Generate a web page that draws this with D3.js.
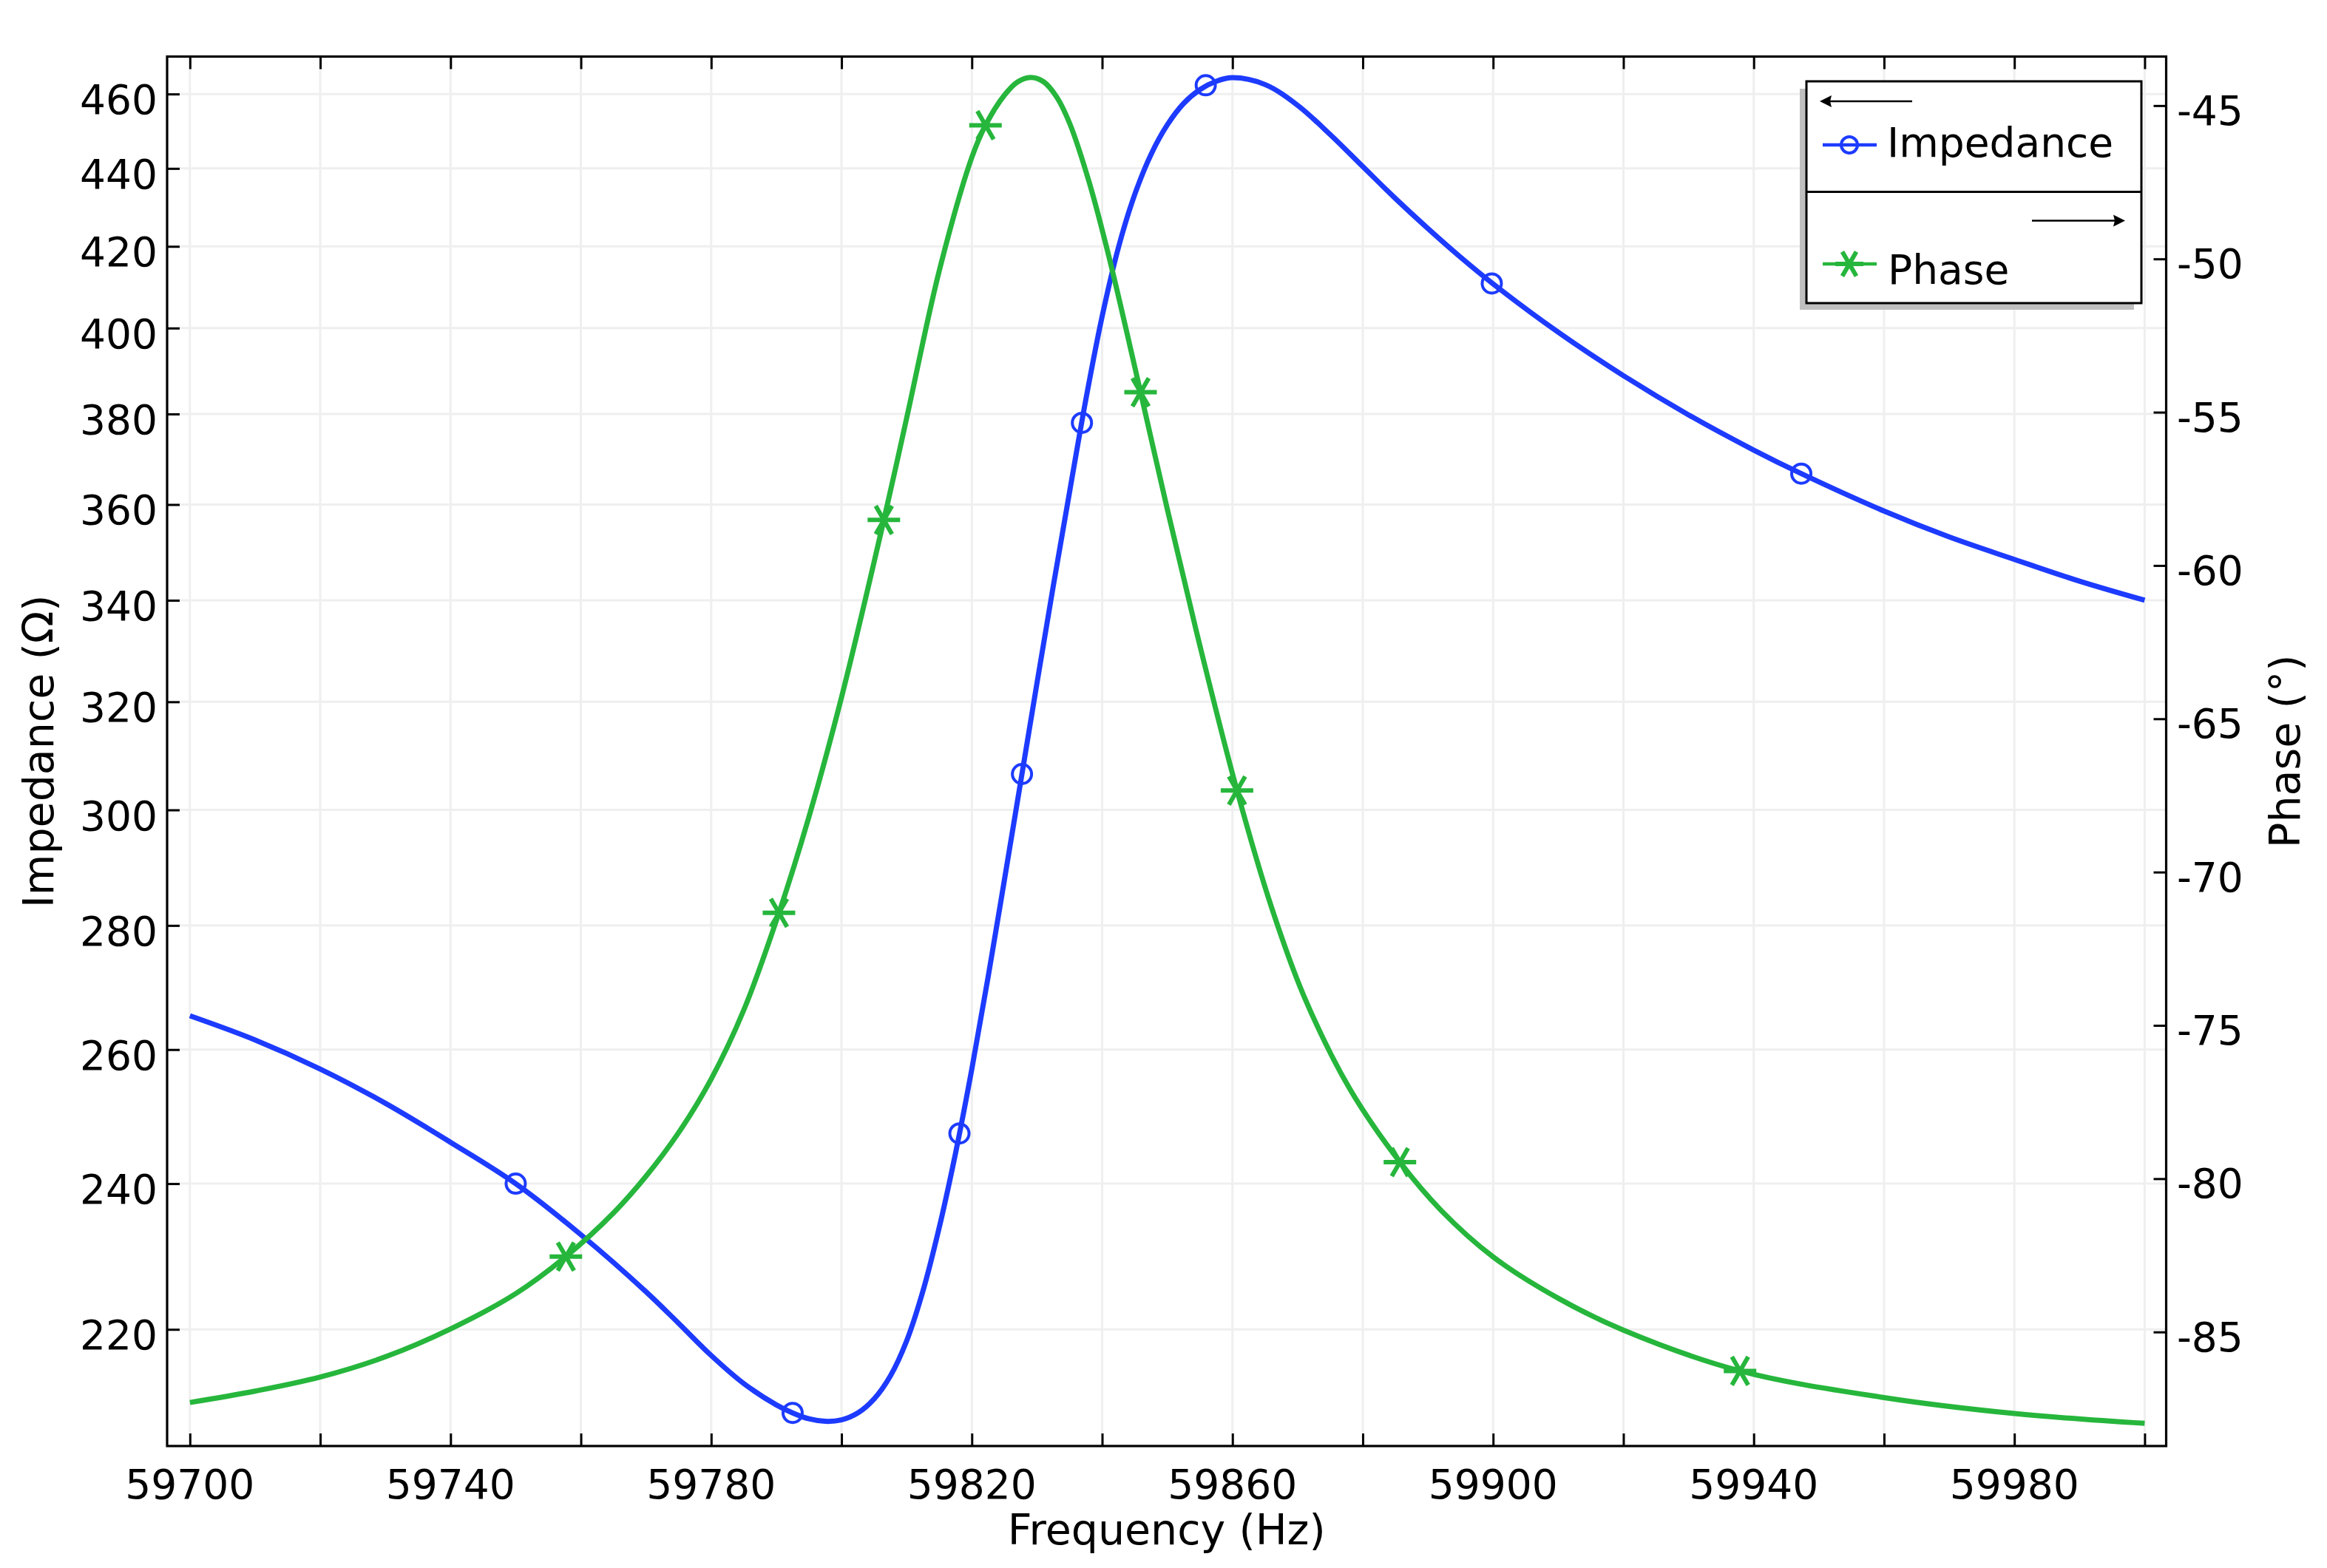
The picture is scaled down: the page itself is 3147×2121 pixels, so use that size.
<!DOCTYPE html>
<html>
<head>
<meta charset="utf-8">
<script src="https://cdn.jsdelivr.net/npm/d3@7"></script>
<style>
  html, body { margin: 0; padding: 0; background: #ffffff; }
  svg { display: block; font-family: "DejaVu Sans", sans-serif; }
</style>
</head>
<body>
<svg id="chart" width="3147" height="2121"></svg>
<script>
// ---------- data ----------
const impFreq = [59700, 59710, 59720, 59730, 59740, 59750, 59760, 59770, 59775, 59780,
                 59785, 59790, 59792.5, 59795, 59797.5, 59800, 59802.5, 59805, 59807.5, 59810,
                 59812.5, 59815, 59817.5, 59820, 59822.5, 59825, 59827.5, 59830, 59832.5, 59835,
                 59837.5, 59840, 59842.5, 59845, 59847.5, 59850, 59852.5, 59855, 59857.5, 59860,
                 59865, 59870, 59875, 59880, 59885, 59890, 59895, 59900, 59910, 59920,
                 59930, 59940, 59947.3, 59960, 59970, 59980, 59990, 60000];
const impValue = [265.3, 261.5, 257.0, 251.8, 246.0, 240.0, 232.8, 225.0, 220.8, 216.6,
                  213.0, 210.3, 209.3, 208.56, 208.25, 208.43, 209.29, 211.05, 213.97, 218.5,
                  225.1, 233.8, 244.4, 257.0, 271.5, 287.7, 305.1, 323.6, 342.9, 362.7,
                  383.3, 402.8, 419.7, 433.2, 443.7, 451.6, 457.4, 461.2, 463.5, 464.5,
                  462.6, 456.9, 449.0, 440.5, 432.2, 424.5, 417.3, 410.7, 399.0, 388.8,
                  379.8, 371.9, 366.7, 358.6, 353.1, 348.4, 343.9, 340.0];

const phaseFreq = [59700, 59710, 59720, 59730, 59740, 59750, 59757.7, 59765, 59770, 59775,
                   59780, 59785, 59790.4, 59795, 59800, 59806.5, 59810, 59815, 59820, 59822.1,
                   59825, 59827, 59829, 59831, 59833, 59835, 59838, 59841, 59845.9, 59850,
                   59855, 59860.7, 59866, 59871, 59878, 59885.7, 59892, 59900, 59910, 59920,
                   59937.9, 59960, 59980, 60000];
const phaseValue = [-87.30, -86.93, -86.47, -85.81, -84.90, -83.75, -82.54, -81.12, -79.92, -78.50,
                    -76.75, -74.50, -71.33, -68.20, -64.30, -58.515, -55.19, -50.39, -46.69, -45.64,
                    -44.66, -44.23, -44.08, -44.22, -44.71, -45.57, -47.49, -49.89, -54.35, -58.16,
                    -62.61, -67.34, -71.15, -74.06, -77.07, -79.46, -81.03, -82.55, -83.90, -84.94,
                    -86.27, -87.14, -87.66, -87.98];

// marker positions
const impMarkFreq  = [59750, 59792.5, 59818.1, 59827.7, 59836.9, 59855.9, 59899.8, 59947.3];
const impMarkValue = [240.0, 209.3, 247.3, 306.5, 378.0, 462.4, 410.8, 366.7];
const phaseMarkFreq  = [59757.7, 59790.4, 59806.5, 59822.1, 59845.9, 59860.7, 59885.7, 59937.9];
const phaseMarkValue = [-82.54, -71.33, -58.515, -45.64, -54.35, -67.34, -79.46, -86.27];

// ticks
const xTicksAll   = d3.range(59700, 60001, 20);
const xTickLabels = [59700, 59740, 59780, 59820, 59860, 59900, 59940, 59980];
const impTicks    = [220, 240, 260, 280, 300, 320, 340, 360, 380, 400, 420, 440, 460];
const phaseTicks  = [-85, -80, -75, -70, -65, -60, -55, -50, -45];

const xDomain     = [59696.5, 60003.3];
const impDomain   = [205.2, 470.4];
const phaseDomain = [-88.72, -43.40];

const seriesNames = ["Impedance", "Phase"];
const titles = { x: "Frequency (Hz)", yLeft: "Impedance (\u03A9)", yRight: "Phase (\u00B0)" };

// ---------- layout ----------
const plot = { left: 226, right: 2929.5, top: 76.5, bottom: 1956 };
const blue = "#1d3bff", green = "#26b63c", gridCol = "#efefef";
const fontSize = 55;

const svg = d3.select("#chart");
const x  = d3.scaleLinear().domain(xDomain).range([plot.left, plot.right]);
const yL = d3.scaleLog().domain(impDomain).range([plot.bottom, plot.top]);
const yR = d3.scaleLinear().domain(phaseDomain).range([plot.bottom, plot.top]);

svg.append("rect").attr("width", 3147).attr("height", 2121).attr("fill", "#fff");

svg.append("defs").append("clipPath").attr("id", "clip")
  .append("rect").attr("x", plot.left).attr("y", plot.top)
  .attr("width", plot.right - plot.left).attr("height", plot.bottom - plot.top);

// grid
const grid = svg.append("g");
grid.selectAll(".gx").data(xTicksAll).join("line")
  .attr("x1", d => x(d)).attr("x2", d => x(d))
  .attr("y1", plot.top).attr("y2", plot.bottom)
  .attr("stroke", gridCol).attr("stroke-width", 3);
grid.selectAll(".gy").data(impTicks).join("line")
  .attr("x1", plot.left).attr("x2", plot.right)
  .attr("y1", d => yL(d)).attr("y2", d => yL(d))
  .attr("stroke", gridCol).attr("stroke-width", 3);

// axes with inward ticks
const tickLen = 17;
const bottomAxis = d3.axisBottom(x).tickValues(xTicksAll).tickSize(-tickLen).tickFormat("");
const topAxis = d3.axisTop(x).tickValues(xTicksAll).tickSize(-tickLen).tickFormat("");
const leftAxis = d3.axisLeft(yL).tickValues(impTicks).tickSize(-tickLen).tickFormat("");
const rightAxis = d3.axisRight(yR).tickValues(phaseTicks).tickSize(-tickLen).tickFormat("");
function styleAxis(g) {
  g.select(".domain").remove();
  g.selectAll(".tick line").attr("stroke", "#000").attr("stroke-width", 3);
}
svg.append("g").attr("transform", `translate(0,${plot.bottom})`).call(bottomAxis).call(styleAxis);
svg.append("g").attr("transform", `translate(0,${plot.top})`).call(topAxis).call(styleAxis);
svg.append("g").attr("transform", `translate(${plot.left},0)`).call(leftAxis).call(styleAxis);
svg.append("g").attr("transform", `translate(${plot.right},0)`).call(rightAxis).call(styleAxis);

// tick labels
const lab = svg.append("g").attr("font-size", fontSize).attr("fill", "#000");
lab.selectAll(".xl").data(xTickLabels).join("text")
  .attr("x", d => x(d)).attr("y", 2027).attr("text-anchor", "middle").text(d => d);
lab.selectAll(".yl").data(impTicks).join("text")
  .attr("x", 213).attr("y", d => yL(d) + 27).attr("text-anchor", "end").text(d => d);
lab.selectAll(".yr").data(phaseTicks).join("text")
  .attr("x", 2944).attr("y", d => yR(d) + 26).attr("text-anchor", "start").text(d => d);

// titles
lab.append("text").attr("x", (plot.left + plot.right) / 2).attr("y", 2089)
  .attr("text-anchor", "middle").attr("font-size", 57).text(titles.x);
lab.append("text").attr("transform", `translate(72,${(plot.top + plot.bottom) / 2}) rotate(-90)`)
  .attr("text-anchor", "middle").attr("font-size", 57).text(titles.yLeft);
lab.append("text").attr("transform", `translate(3110,${(plot.top + plot.bottom) / 2}) rotate(-90)`)
  .attr("text-anchor", "middle").attr("font-size", 57).text(titles.yRight);

// lines
const impData = impFreq.map((f, i) => [f, impValue[i]]);
const phaseData = phaseFreq.map((f, i) => [f, phaseValue[i]]);
const impLine = d3.line().x(d => x(d[0])).y(d => yL(d[1])).curve(d3.curveCatmullRom.alpha(0.5));
const phaseLine = d3.line().x(d => x(d[0])).y(d => yR(d[1])).curve(d3.curveCatmullRom.alpha(0.5));

const lines = svg.append("g").attr("clip-path", "url(#clip)");
lines.append("path").datum(impData).attr("d", impLine)
  .attr("fill", "none").attr("stroke", blue).attr("stroke-width", 7)
  .attr("stroke-linejoin", "round").attr("stroke-linecap", "butt");
lines.selectAll(".im").data(impMarkFreq.map((f, i) => [f, impMarkValue[i]])).join("circle")
  .attr("cx", d => x(d[0])).attr("cy", d => yL(d[1])).attr("r", 13)
  .attr("fill", "none").attr("stroke", blue).attr("stroke-width", 4);

lines.append("path").datum(phaseData).attr("d", phaseLine)
  .attr("fill", "none").attr("stroke", green).attr("stroke-width", 7)
  .attr("stroke-linejoin", "round").attr("stroke-linecap", "butt");

function asterisk(g, cx, cy, r, color, sw) {
  [0, 60, 120].forEach(a => {
    const rad = a * Math.PI / 180;
    g.append("line")
      .attr("x1", cx - r * Math.cos(rad)).attr("y1", cy - r * Math.sin(rad))
      .attr("x2", cx + r * Math.cos(rad)).attr("y2", cy + r * Math.sin(rad))
      .attr("stroke", color).attr("stroke-width", sw);
  });
}
phaseMarkFreq.forEach((f, i) => asterisk(lines, x(f), yR(phaseMarkValue[i]), 22, green, 6));

// frame
svg.append("rect").attr("x", plot.left).attr("y", plot.top)
  .attr("width", plot.right - plot.left).attr("height", plot.bottom - plot.top)
  .attr("fill", "none").attr("stroke", "#000").attr("stroke-width", 3.2);

// legend
const lg = svg.append("g");
lg.append("rect").attr("x", 2434).attr("y", 120).attr("width", 452).attr("height", 299).attr("fill", "#bfbfbf");
lg.append("rect").attr("x", 2443).attr("y", 110).attr("width", 453).attr("height", 300)
  .attr("fill", "#fff").attr("stroke", "#000").attr("stroke-width", 3);
lg.append("line").attr("x1", 2443).attr("x2", 2896).attr("y1", 259.5).attr("y2", 259.5)
  .attr("stroke", "#000").attr("stroke-width", 3);
// arrows
lg.append("line").attr("x1", 2472).attr("x2", 2586).attr("y1", 137).attr("y2", 137).attr("stroke", "#000").attr("stroke-width", 2.5);
lg.append("path").attr("d", "M2461,137 L2477,129 L2475,137 L2477,145 Z").attr("fill", "#000");
lg.append("line").attr("x1", 2748).attr("x2", 2864).attr("y1", 298.5).attr("y2", 298.5).attr("stroke", "#000").attr("stroke-width", 2.5);
lg.append("path").attr("d", "M2874,298.5 L2858,290.5 L2860,298.5 L2858,306.5 Z").attr("fill", "#000");
// entries
lg.append("line").attr("x1", 2465).attr("x2", 2538).attr("y1", 196).attr("y2", 196).attr("stroke", blue).attr("stroke-width", 4.5);
lg.append("circle").attr("cx", 2501).attr("cy", 196).attr("r", 11).attr("fill", "none").attr("stroke", blue).attr("stroke-width", 4);
lg.append("text").attr("x", 2552).attr("y", 212).attr("font-size", fontSize).text(seriesNames[0]);
lg.append("line").attr("x1", 2465).attr("x2", 2538).attr("y1", 357).attr("y2", 357).attr("stroke", green).attr("stroke-width", 4.5);
asterisk(lg, 2501, 357, 19, green, 6);
lg.append("text").attr("x", 2553).attr("y", 384).attr("font-size", fontSize).text(seriesNames[1]);
</script>
</body>
</html>
